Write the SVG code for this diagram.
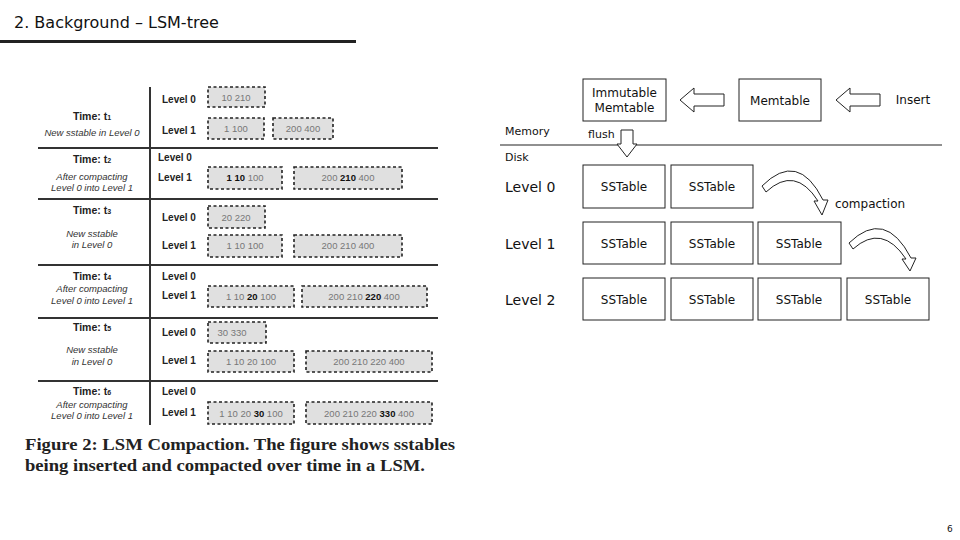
<svg xmlns="http://www.w3.org/2000/svg" width="960" height="540" viewBox="0 0 960 540">
<style>
.s{font-family:"Liberation Sans",Arial,sans-serif;}
.lv{font-family:"Liberation Sans",Arial,sans-serif;font-size:10px;font-weight:bold;fill:#222;}
.tm{font-family:"Liberation Sans",Arial,sans-serif;font-size:10.5px;font-weight:bold;text-anchor:middle;fill:#222;}
.it{font-family:"Liberation Sans",Arial,sans-serif;font-size:9.5px;font-style:italic;text-anchor:middle;fill:#333;}
.db{fill:#e0e0e0;stroke:#222;stroke-width:1.6;stroke-dasharray:3,2.5;}
.dt{font-family:"Liberation Sans",Arial,sans-serif;font-size:9.5px;fill:#777;text-anchor:middle;}
.dt tspan.b{font-weight:bold;fill:#111;}
.sep{stroke:#333;stroke-width:2;}
.bx{fill:#fff;stroke:#222;stroke-width:1;}
.bt{font-family:"DejaVu Sans",sans-serif;font-size:12px;text-anchor:middle;fill:#111;}
.lt{font-family:"DejaVu Sans",sans-serif;font-size:14px;fill:#111;}
.ha{fill:#fff;stroke:#222;stroke-width:1;}
</style>
<rect width="960" height="540" fill="#fff"/>
<text x="14" y="28" font-family="DejaVu Sans,sans-serif" font-size="16" fill="#111">2. Background – LSM-tree</text>
<rect x="0" y="40" width="356" height="3" fill="#222"/>

<g id="table">
<line x1="150" y1="87" x2="150" y2="425" class="sep"/>
<line x1="38" y1="148" x2="438" y2="148" class="sep"/>
<line x1="38" y1="199" x2="438" y2="199" class="sep"/>
<line x1="38" y1="265" x2="438" y2="265" class="sep"/>
<line x1="38" y1="318" x2="438" y2="318" class="sep"/>
<line x1="38" y1="381" x2="438" y2="381" class="sep"/>
<text class="tm" x="92" y="120">Time: t<tspan font-size="7">1</tspan></text>
<text class="it" x="92" y="136">New sstable in Level 0</text>
<text class="tm" x="92" y="163">Time: t<tspan font-size="7">2</tspan></text>
<text class="it" x="92" y="180">After compacting</text>
<text class="it" x="92" y="191">Level 0 into Level 1</text>
<text class="tm" x="92" y="214">Time: t<tspan font-size="7">3</tspan></text>
<text class="it" x="92" y="237">New sstable</text>
<text class="it" x="92" y="248">in Level 0</text>
<text class="tm" x="92" y="280">Time: t<tspan font-size="7">4</tspan></text>
<text class="it" x="92" y="292">After compacting</text>
<text class="it" x="92" y="304">Level 0 into Level 1</text>
<text class="tm" x="92" y="331">Time: t<tspan font-size="7">5</tspan></text>
<text class="it" x="92" y="353">New sstable</text>
<text class="it" x="92" y="365">in Level 0</text>
<text class="tm" x="92" y="395">Time: t<tspan font-size="7">6</tspan></text>
<text class="it" x="92" y="408">After compacting</text>
<text class="it" x="92" y="419">Level 0 into Level 1</text>

<text class="lv" x="162" y="103">Level 0</text>
<text class="lv" x="162" y="134">Level 1</text>
<text class="lv" x="158" y="161">Level 0</text>
<text class="lv" x="158" y="181">Level 1</text>
<text class="lv" x="162" y="221">Level 0</text>
<text class="lv" x="162" y="249">Level 1</text>
<text class="lv" x="162" y="280">Level 0</text>
<text class="lv" x="162" y="299">Level 1</text>
<text class="lv" x="162" y="336">Level 0</text>
<text class="lv" x="162" y="364">Level 1</text>
<text class="lv" x="162" y="395">Level 0</text>
<text class="lv" x="162" y="416">Level 1</text>

<rect class="db" x="208" y="87" width="57" height="20"/><text class="dt" x="236" y="101">10 210</text>
<rect class="db" x="208" y="118" width="56" height="21"/><text class="dt" x="236" y="132">1 100</text>
<rect class="db" x="273" y="118" width="60" height="21"/><text class="dt" x="303" y="132">200 400</text>

<rect class="db" x="208" y="167" width="74" height="22"/><text class="dt" x="245" y="181"><tspan class="b">1 10</tspan> 100</text>
<rect class="db" x="294" y="167" width="108" height="22"/><text class="dt" x="348" y="181">200 <tspan class="b">210</tspan> 400</text>

<rect class="db" x="208" y="206" width="57" height="22"/><text class="dt" x="236" y="221">20 220</text>
<rect class="db" x="208" y="235" width="74" height="22"/><text class="dt" x="245" y="249">1 10 100</text>
<rect class="db" x="294" y="235" width="108" height="22"/><text class="dt" x="348" y="249">200 210 400</text>

<rect class="db" x="208" y="286" width="86" height="21"/><text class="dt" x="251" y="300">1 10 <tspan class="b">20</tspan> 100</text>
<rect class="db" x="302" y="286" width="125" height="21"/><text class="dt" x="364" y="300">200 210 <tspan class="b">220</tspan> 400</text>

<rect class="db" x="208" y="322" width="58" height="21"/><text class="dt" x="232" y="336">30 330</text>
<rect class="db" x="208" y="351" width="86" height="21"/><text class="dt" x="251" y="365">1 10 20 100</text>
<rect class="db" x="306" y="351" width="126" height="21"/><text class="dt" x="369" y="365">200 210 220 400</text>

<rect class="db" x="208" y="402" width="86" height="22"/><text class="dt" x="251" y="417">1 10 20 <tspan class="b">30</tspan> 100</text>
<rect class="db" x="306" y="402" width="126" height="22"/><text class="dt" x="369" y="417">200 210 220 <tspan class="b">330</tspan> 400</text>
</g>
<text x="25" y="450" font-family="Liberation Serif,serif" font-size="17" font-weight="bold" fill="#222" textLength="430" lengthAdjust="spacingAndGlyphs">Figure 2: LSM Compaction. The figure shows sstables</text>
<text x="25" y="471" font-family="Liberation Serif,serif" font-size="17" font-weight="bold" fill="#222" textLength="400" lengthAdjust="spacingAndGlyphs">being inserted and compacted over time in a LSM.</text>

<g id="imm"><rect class="bx" x="583" y="79" width="83" height="42"/><text class="bt" x="624.5" y="97">Immutable</text><text class="bt" x="624.5" y="112">Memtable</text></g>
<g id="mem"><rect class="bx" x="739" y="79" width="82" height="42"/><text class="bt" x="780" y="105">Memtable</text></g>
<text class="bt" x="913" y="104">Insert</text>
<text x="505" y="135" font-family="DejaVu Sans,sans-serif" font-size="11" fill="#111">Memory</text>
<text x="588" y="138" font-family="DejaVu Sans,sans-serif" font-size="11" fill="#111">flush</text>
<text x="505" y="161" font-family="DejaVu Sans,sans-serif" font-size="11" fill="#111">Disk</text>
<line x1="500" y1="145" x2="942" y2="145" stroke="#222" stroke-width="1.2"/>
<text class="lt" x="505" y="192">Level 0</text>
<text class="lt" x="505" y="249">Level 1</text>
<text class="lt" x="505" y="305">Level 2</text>

<g id="sst">
<rect class="bx" x="583" y="165" width="82" height="43"/><text class="bt" x="624" y="191">SSTable</text>
<rect class="bx" x="671" y="165" width="82" height="43"/><text class="bt" x="712" y="191">SSTable</text>
<rect class="bx" x="583" y="222" width="82" height="42"/><text class="bt" x="624" y="248">SSTable</text>
<rect class="bx" x="671" y="222" width="82" height="42"/><text class="bt" x="712" y="248">SSTable</text>
<rect class="bx" x="758" y="222" width="83" height="42"/><text class="bt" x="799" y="248">SSTable</text>
<rect class="bx" x="583" y="278" width="82" height="42"/><text class="bt" x="624" y="304">SSTable</text>
<rect class="bx" x="671" y="278" width="82" height="42"/><text class="bt" x="712" y="304">SSTable</text>
<rect class="bx" x="758" y="278" width="83" height="42"/><text class="bt" x="799" y="304">SSTable</text>
<rect class="bx" x="847" y="278" width="82" height="42"/><text class="bt" x="888" y="304">SSTable</text>
</g>
<text class="bt" x="870" y="208">compaction</text>

<g id="connectors">
<path class="ha" d="M680,100 L694,88 L694,94 L724,94 L724,106 L694,106 L694,112 Z"/>
<path class="ha" d="M836,100 L850,88 L850,94 L880,94 L880,106 L850,106 L850,112 Z"/>
<path class="ha" d="M621,130 L633,130 L633,144 L637,144 L627,157 L617,144 L621,144 Z"/>
<path class="ha" d="M762,186 Q798,150 823,200 L828,200 L822,215 L814,201 L818,201 Q795,165 766,192 Z"/>
<path class="ha" d="M849,243 Q885,208 911,258 L916,258 L910,271 L902,259 L906,259 Q882,223 853,249 Z"/>
</g>
<text x="947" y="532" font-family="DejaVu Sans,sans-serif" font-size="9" fill="#111">6</text>
</svg>
